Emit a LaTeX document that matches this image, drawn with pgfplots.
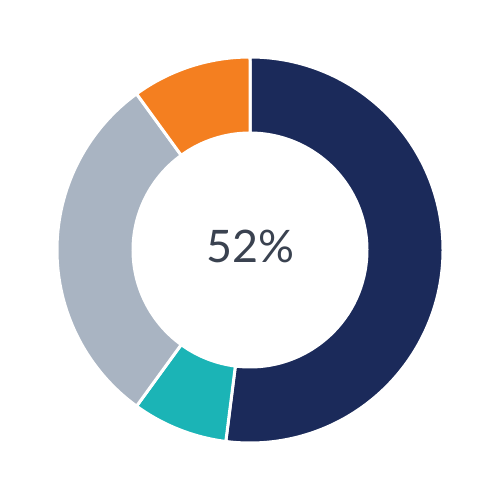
\documentclass[border=0pt]{standalone}
\usepackage{pgfplots}
\pgfplotsset{compat=1.18}
\usepackage{fontspec}
\setmainfont{Lato}
\definecolor{cnavy}{HTML}{1B2A5A}
\definecolor{cteal}{HTML}{1BB4B6}
\definecolor{cgray}{HTML}{A9B4C2}
\definecolor{corange}{HTML}{F47F20}
\definecolor{ctext}{HTML}{3A4250}
% segment: start percent (cumulative), value percent, colour
\newcommand{\seg}[3]{%
  \draw[fill=#3, draw=white, line width=0.06cm]
    (axis cs:{193*cos(90-3.6*#1)},{193*sin(90-3.6*#1)})
    arc[start angle={90-3.6*#1}, end angle={90-3.6*(#1+#2)}, radius=3.86cm]
    -- (axis cs:{117*cos(90-3.6*(#1+#2))},{117*sin(90-3.6*(#1+#2))})
    arc[start angle={90-3.6*(#1+#2)}, end angle={90-3.6*#1}, radius=2.34cm]
    -- cycle;}
\begin{document}
\begin{tikzpicture}
\begin{axis}[
  scale only axis, width=10cm, height=10cm,
  xmin=-250, xmax=250, ymin=-250, ymax=250,
  hide axis, clip=false]
\path (axis cs:-250,-250) rectangle (axis cs:250,250);
\seg{0}{52}{cnavy}
\seg{52}{8}{cteal}
\seg{60}{30}{cgray}
\seg{90}{10}{corange}
\node[text=ctext, font=\fontsize{25.5}{30}\selectfont] at (axis cs:0,4) {52\%};
\end{axis}
\end{tikzpicture}
\end{document}
